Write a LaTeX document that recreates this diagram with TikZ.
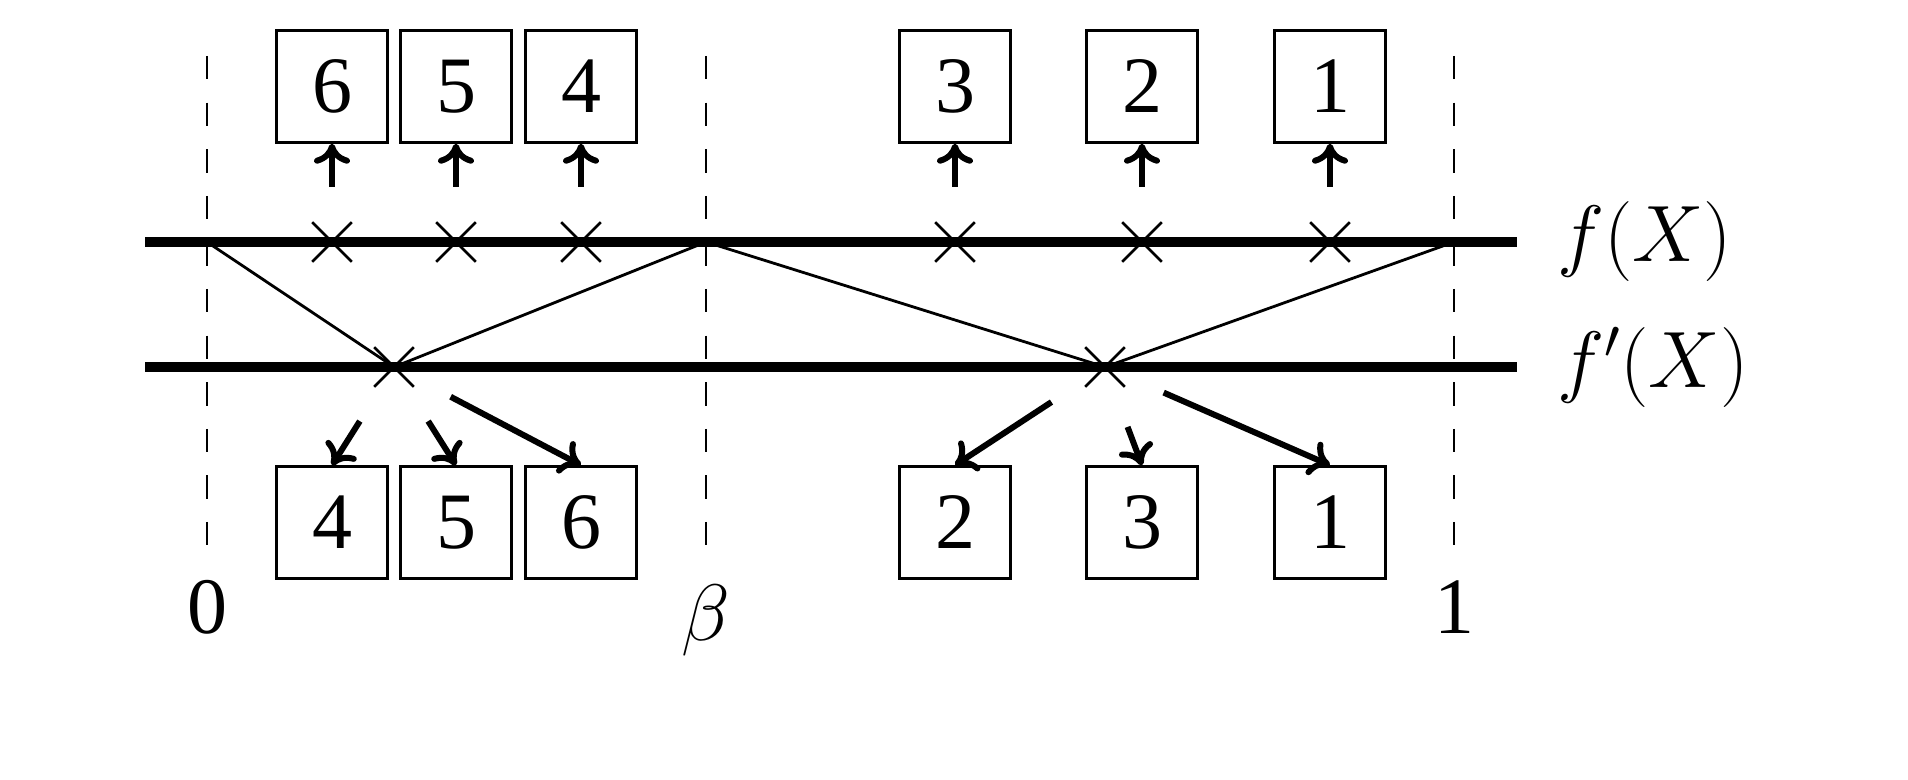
\documentclass[tikz,border=0pt]{standalone}
\usepackage{fix-cm}
\usepackage[no-math]{fontspec}
\newfontfamily\tms{Liberation Serif}
\usetikzlibrary{arrows.meta}
\usetikzlibrary{shapes.misc}

\begin{document}
\begin{tikzpicture}[x=.5pt,y=-.5pt,
  box/.style={draw, line width=1.5pt, minimum size=55.75pt, inner sep=0, font=\tms\fontsize{40}{48}\selectfont},
  xmark/.style={draw, cross out, line width=1.3pt, minimum size=18.5pt, inner sep=0},
  arr/.style={line width=3pt, -{Computer Modern Rightarrow[length=10pt,width=18pt]}},
  num/.style={font=\tms\fontsize{40}{48}\selectfont, inner sep=0},
  mth/.style={font=\fontsize{40}{48}\selectfont, inner sep=0}]
\useasboundingbox (0,0) rectangle (1908,780);
% dashed marks 0, beta, 1
\foreach \x in {207,706,1454}
 \draw[line width=1.4pt, dash pattern=on 11.7pt off 11.6pt] (\x,56)--(\x,554);
\coordinate (z0) at (207,242);
\coordinate (zb) at (706,242);
\coordinate (z1) at (1454,242);
% the two scales
\draw[line width=5pt] (145,242) -- (1517,242) node[mth, anchor=west, xshift=17.5pt] (fx) {$f(X)$};
\draw[line width=5pt] (145,367) -- (1517,367) node[mth, anchor=west, xshift=17.5pt] (gx) {$f'(X)$};
\node[xmark] (lo) at (394,367) {};
\node[xmark] (ro) at (1105,367) {};
\draw[line width=1.4pt] (z0) -- (lo.center) -- (zb) -- (ro.center) -- (z1);
\foreach \n/\x/\v in {1/332/6, 2/456/5, 3/581/4, 4/955/3, 5/1142/2, 6/1330/1} {
 \node[box] (t\n) at (\x,86.5) {\v};
 \node[xmark] (c\n) at (\x,242) {};
 \draw[arr, shorten <=27.5pt] (c\n.center) -- (t\n.south);
}
\foreach \n/\x/\v/\s in {1/332/4/lo, 2/456/5/lo, 3/581/6/lo, 4/955/2/ro, 5/1142/3/ro, 6/1330/1/ro} {
 \node[box] (b\n) at (\x,522.5) {\v};
 \draw[arr, shorten <=32pt] (\s.center) -- (b\n.north);
}
\node[num, anchor=base] (zero) at (207,634) {0};
\node[mth, anchor=base] (beta) at (706,640) {$\beta$};
\node[num, anchor=base] (one) at (1454,634) {1};
\end{tikzpicture}
\end{document}
